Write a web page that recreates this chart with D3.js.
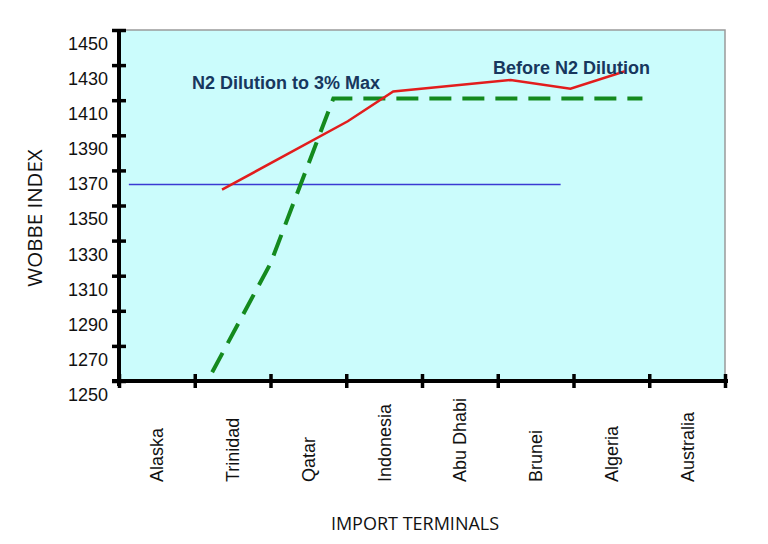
<!DOCTYPE html>
<html>
<head>
<meta charset="utf-8">
<script src="https://cdn.jsdelivr.net/npm/d3@7"></script>
<style>
  body { margin: 0; background: #fff; }
  svg { display: block; }
</style>
</head>
<body>
<div id="chart"></div>
<script>
// categories along the bottom
const terminals = ['Alaska', 'Trinidad', 'Qatar', 'Indonesia', 'Abu Dhabi', 'Brunei', 'Algeria', 'Australia'];
const yTicks = [1250, 1270, 1290, 1310, 1330, 1350, 1370, 1390, 1410, 1430, 1450];

// positions are in category units (0 = left edge of Alaska, 8 = right edge of Australia)
const beforePos = [1.36, 3.02, 3.62, 5.17, 5.96, 6.68];
const beforeVal = [1359, 1398, 1415, 1421.5, 1416.5, 1426.5];

const dilutedPos = [1.23, 2.0, 2.83, 6.91];
const dilutedVal = [1255, 1317, 1411, 1411];

const refPos = [0.13, 5.83];
const refVal = [1362, 1362];

class WobbeChart {
    svg; chart;
    xScale; yScale;

    constructor(container, width, height, margin) {
        this.width = width;
        this.height = height;
        this.margin = margin;

        this.svg = d3.select(container)
            .append('svg')
            .attr('width', width)
            .attr('height', height);

        this.chart = this.svg.append('g');

        this.xScale = d3.scaleLinear()
            .domain([0, terminals.length])
            .range([margin.left, width - margin.right]);
        this.yScale = d3.scaleLinear()
            .domain([d3.min(yTicks), d3.max(yTicks)])
            .range([height - margin.bottom, margin.top]);
    }

    #drawFrame() {
        const [x0, x1] = this.xScale.range();
        const [y0, y1] = this.yScale.range();
        this.chart.append('rect')
            .attr('x', x0).attr('y', y1)
            .attr('width', x1 - x0).attr('height', y0 - y1)
            .attr('fill', '#cbfcfc')
            .attr('stroke', '#9a9a9a')
            .attr('stroke-width', 1.5);
    }

    #drawLine(xs, ys, color, width, dash) {
        const pts = xs.map((d, i) => [d, ys[i]]);
        const lineGen = d3.line()
            .x(d => this.xScale(d[0]))
            .y(d => this.yScale(d[1]));
        this.chart.append('path')
            .datum(pts)
            .attr('fill', 'none')
            .attr('stroke', color)
            .attr('stroke-width', width)
            .attr('stroke-dasharray', dash)
            .attr('d', lineGen);
    }

    #drawAxes() {
        const yAxis = d3.axisLeft(this.yScale)
            .tickValues(yTicks)
            .tickFormat(d3.format('d'))
            .tickSizeOuter(0);
        const gy = this.chart.append('g')
            .attr('transform', `translate(${this.margin.left},0)`)
            .call(yAxis);
        gy.select('.domain')
            .attr('stroke', '#000').attr('stroke-width', 4)
            .attr('d', `M0,${this.yScale.range()[1] - 1}V${this.yScale.range()[0] + 5}`);
        gy.selectAll('.tick line')
            .attr('x1', -7).attr('x2', 7)
            .attr('stroke', '#000').attr('stroke-width', 3.5);
        gy.selectAll('.tick text')
            .attr('x', -11).attr('dy', '1.08em')
            .attr('font-family', '"Liberation Sans", Arial, sans-serif')
            .attr('font-size', 18).attr('fill', '#111');

        const xAxis = d3.axisBottom(this.xScale)
            .tickValues(d3.range(terminals.length + 1))
            .tickFormat('')
            .tickSizeOuter(0);
        const gx = this.chart.append('g')
            .attr('transform', `translate(0,${this.yScale.range()[0]})`)
            .call(xAxis);
        gx.select('.domain')
            .attr('stroke', '#000').attr('stroke-width', 4)
            .attr('d', `M${this.xScale.range()[0] - 7},0H${this.xScale.range()[1] + 3}`);
        gx.selectAll('.tick line')
            .attr('y1', -7).attr('y2', 7)
            .attr('stroke', '#000').attr('stroke-width', 3.5);

        this.chart.append('g')
            .selectAll('text')
            .data(terminals)
            .join('text')
            .attr('transform', (d, i) => `translate(${this.xScale(i + 0.5) + 6.5},482) rotate(-90)`)
            .attr('font-family', '"Liberation Sans", Arial, sans-serif')
            .attr('font-size', 18).attr('fill', '#111')
            .text(d => d);

        this.svg.append('text')
            .attr('transform', 'translate(42,218) rotate(-90)')
            .attr('text-anchor', 'middle')
            .attr('font-family', '"Open Sans", sans-serif')
            .attr('font-size', 20.5).attr('fill', '#111')
            .text('WOBBE INDEX');
        this.svg.append('text')
            .attr('x', 415).attr('y', 530)
            .attr('text-anchor', 'middle')
            .attr('font-family', '"Open Sans", sans-serif')
            .attr('font-size', 18).attr('fill', '#111')
            .text('IMPORT TERMINALS');
    }

    #drawNotes() {
        const notes = [['N2 Dilution to 3% Max', 192, 89], ['Before N2 Dilution', 493, 74]];
        this.chart.selectAll('text.note')
            .data(notes)
            .join('text')
            .classed('note', true)
            .attr('x', d => d[1]).attr('y', d => d[2])
            .attr('font-family', '"Liberation Sans", Arial, sans-serif')
            .attr('font-weight', 'bold')
            .attr('font-size', 18).attr('fill', '#17375e')
            .text(d => d[0]);
    }

    render() {
        this.#drawFrame();
        this.#drawLine(refPos, refVal, '#3a3ad2', 1.5, null);
        this.#drawLine(dilutedPos, dilutedVal, '#148a1e', 4, '22 11');
        this.#drawLine(beforePos, beforeVal, '#e21d1d', 2.5, null);
        this.#drawNotes();
        this.#drawAxes();
        return this;
    }
}

new WobbeChart('#chart', 768, 544, { top: 30, right: 43, bottom: 163, left: 119 }).render();
</script>
</body>
</html>
